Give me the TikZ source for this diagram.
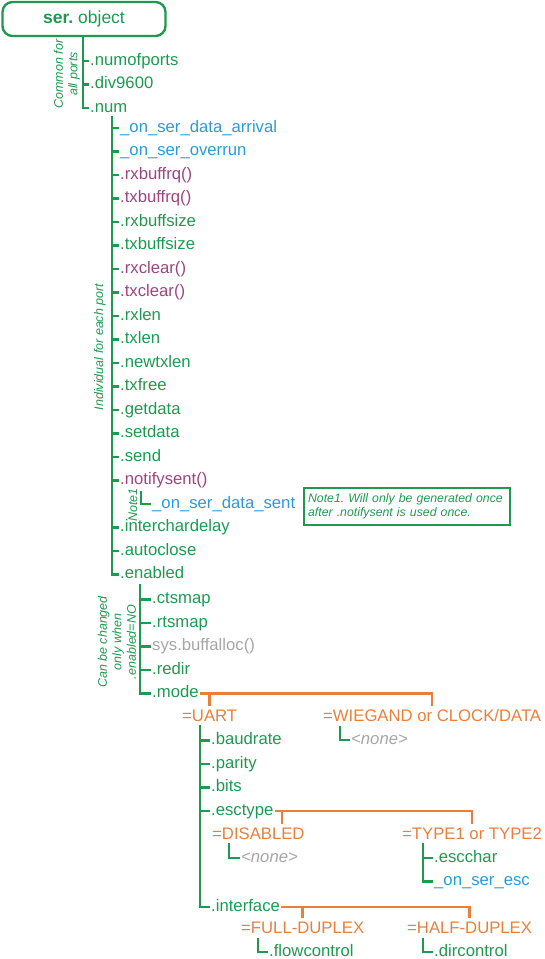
\documentclass[tikz,border=0pt]{standalone}
\usepackage{fontspec}
\setmainfont{Liberation Sans}
\usepackage{xcolor}
\usetikzlibrary{positioning}
\definecolor{portgreen}{HTML}{1E9A50}
\definecolor{eventblue}{HTML}{2B9BD8}
\definecolor{methodplum}{HTML}{9E4580}
\definecolor{modeorange}{HTML}{E8803C}
\definecolor{idlegray}{HTML}{A6A6A6}

\begin{document}
\frenchspacing
\begin{tikzpicture}[x=1pt, y=-1pt,
    prop/.style={anchor=west, inner xsep=1pt, inner ysep=0pt, text height=12pt, text depth=3.5pt, font=\fontsize{16.7}{19}\selectfont, text=portgreen},
    event/.style={prop, text=eventblue},
    method/.style={prop, text=methodplum},
    idle/.style={prop, text=idlegray},
    novalue/.style={prop, text=idlegray, font=\fontsize{16.7}{19}\selectfont\itshape},
    modeval/.style={prop, inner ysep=3pt, text=modeorange},
    trunk/.style={draw=portgreen, line width=2.8pt},
    fork/.style={draw=modeorange, line width=2.4pt},
    remark/.style={text=portgreen, font=\fontsize{12.5}{14.5}\selectfont\itshape, align=center, rotate=90, inner sep=0pt}
]
\useasboundingbox (0,0) rectangle (544,959);

\node[draw=portgreen, line width=2.4pt, rounded corners=10pt, minimum width=163pt, minimum height=34pt, font=\fontsize{17.5}{20}\selectfont, text=portgreen] (ser) at (84,19) {\textbf{ser.} object};

\node[prop] (numofports) at (89,61) {.numofports};
\node[prop] (div9600) at (89,84.5) {.div9600};
\node[prop] (num) at (89,108) {.num};
\coordinate (common) at (83,36);
\draw[trunk] (common) |- (num.west);
\foreach \n in {numofports,div9600}
    \draw[trunk] (common |- \n.west) -- (\n.west);
\node[remark] (commonnote) at (67,74) {Common for\\all ports};

\foreach \k/\n/\t/\s in {0/arrival/\_on\_ser\_data\_arrival/event, 1/overrun/\_on\_ser\_overrun/event,
        2/rxbuffrq/.rxbuffrq()/method, 3/txbuffrq/.txbuffrq()/method, 4/rxbuffsize/.rxbuffsize/prop,
        5/txbuffsize/.txbuffsize/prop, 6/rxclear/.rxclear()/method, 7/txclear/.txclear()/method,
        8/rxlen/.rxlen/prop, 9/txlen/.txlen/prop, 10/newtxlen/.newtxlen/prop, 11/txfree/.txfree/prop,
        12/getdata/.getdata/prop, 13/setdata/.setdata/prop, 14/send/.send/prop,
        15/notifysent/.notifysent()/method, 17/interchardelay/.interchardelay/prop,
        18/autoclose/.autoclose/prop, 19/enabled/.enabled/prop}
    \node[\s] (\n) at (119,128+23.5*\k) {\t};
\coordinate (individual) at (112,116);
\draw[trunk] (individual) |- (enabled.west);
\foreach \n in {arrival,overrun,rxbuffrq,txbuffrq,rxbuffsize,txbuffsize,rxclear,txclear,rxlen,txlen,
        newtxlen,txfree,getdata,setdata,send,notifysent,interchardelay,autoclose}
    \draw[trunk] (individual |- \n.west) -- (\n.west);
\node[remark] (portnote) at (100,347) {Individual for each port};

\node[event] (sent) at (151,504) {\_on\_ser\_data\_sent};
\coordinate (sentstem) at (141,491);
\draw[trunk] (sentstem) |- (sent.west);
\node[remark] (noteone) at (133,505) {Note1};
\node[draw=portgreen, line width=2.2pt, anchor=west, text width=198pt, inner xsep=4pt, minimum height=37pt, align=left, text=portgreen, font=\fontsize{12.3}{14}\selectfont\itshape] (note) at (303,506.5) {Note1. Will only be generated once\\after .notifysent is used once.};

\foreach \k/\n/\t/\s in {0/ctsmap/.ctsmap/prop, 1/rtsmap/.rtsmap/prop, 2/buffalloc/sys.buffalloc()/idle,
        3/redir/.redir/prop, 4/mode/.mode/prop}
    \node[\s] (\n) at (151,599.5+23.5*\k) {\t};
\coordinate (locked) at (140,584);
\draw[trunk] (locked) |- (mode.west);
\foreach \n in {ctsmap,rtsmap,buffalloc,redir}
    \draw[trunk] (locked |- \n.west) -- (\n.west);
\node[remark] (locknote) at (117,642) {Can be changed\\only when\\.enabled=NO};

\node[modeval] (uart) at (181,717) {=UART};
\node[modeval] (wiegand) at (322,717) {=WIEGAND or CLOCK/DATA};
\draw[fork] (mode.east) -| (wiegand.north);
\draw[fork] (uart.north |- mode.east) -- (uart.north);

\node[novalue] (wnone) at (350,740) {<none>};
\coordinate (wstem) at (340,726);
\draw[trunk] (wstem) |- (wnone.west);

\foreach \k/\n/\t in {0/baudrate/.baudrate, 1/parity/.parity, 2/bits/.bits, 3/esctype/.esctype}
    \node[prop] (\n) at (210,740.5+23.5*\k) {\t};
\node[prop] (interface) at (210,907) {.interface};
\coordinate (uartstem) at (200,725);
\draw[trunk] (uartstem) |- (interface.west);
\foreach \n in {baudrate,parity,bits,esctype}
    \draw[trunk] (uartstem |- \n.west) -- (\n.west);

\node[modeval] (disabled) at (211,835) {=DISABLED};
\node[modeval] (typeonetwo) at (401,835) {=TYPE1 or TYPE2};
\coordinate (disdrop) at (282,823);
\draw[fork] (esctype.east) -| (typeonetwo.north);
\draw[fork] (disdrop |- esctype.east) -- (disdrop |- disabled.north);

\node[novalue] (dnone) at (240,858) {<none>};
\coordinate (dstem) at (229,843);
\draw[trunk] (dstem) |- (dnone.west);

\node[prop] (escchar) at (433,858) {.escchar};
\node[event] (onesc) at (433,881.5) {\_on\_ser\_esc};
\coordinate (tstem) at (423,843);
\draw[trunk] (tstem) |- (onesc.west);
\draw[trunk] (tstem |- escchar.west) -- (escchar.west);

\node[modeval] (full) at (240,929) {=FULL-DUPLEX};
\node[modeval] (half) at (406,929) {=HALF-DUPLEX};
\draw[fork] (interface.east) -| (half.north);
\draw[fork] (full.north |- interface.east) -- (full.north);

\node[prop] (flowcontrol) at (268,952) {.flowcontrol};
\node[prop] (dircontrol) at (433,952) {.dircontrol};
\coordinate (fstem) at (258,938);
\draw[trunk] (fstem) |- (flowcontrol.west);
\coordinate (hstem) at (423,938);
\draw[trunk] (hstem) |- (dircontrol.west);
\end{tikzpicture}
\end{document}
